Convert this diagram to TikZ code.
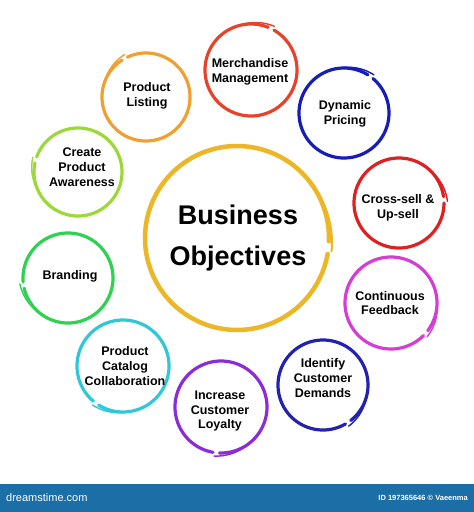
\documentclass[tikz,border=0pt]{standalone}
\usepackage{fontspec}
\setmainfont{Liberation Sans}
\definecolor{cGold}{RGB}{236,182,38}
\definecolor{cMerch}{RGB}{232,66,42}
\definecolor{cList}{RGB}{240,160,48}
\definecolor{cDyn}{RGB}{22,30,182}
\definecolor{cCross}{RGB}{224,32,32}
\definecolor{cCont}{RGB}{214,60,214}
\definecolor{cIdent}{RGB}{34,34,176}
\definecolor{cLoyal}{RGB}{140,44,216}
\definecolor{cCat}{RGB}{48,200,216}
\definecolor{cBrand}{RGB}{44,210,80}
\definecolor{cAware}{RGB}{156,216,56}
\definecolor{barblue}{RGB}{28,110,166}
\tikzset{
  lbl/.style={font=\bfseries\fontsize{12.5}{14.8}\selectfont, align=center, text=black, inner sep=0pt},
  bigl/.style={font=\bfseries\fontsize{27}{41}\selectfont, align=center, text=black, inner sep=0pt}
}
% cx cy r tailangle color width
\newcommand\brushring[6]{%
  \draw[#5, line width=#6, line cap=round] plot[domain=0:352, samples=150, smooth, variable=\t]
    ({#1+#3*cos(\t+#4)}, {#2+#3*sin(\t+#4)});
  \draw[#5, line width=0.45*#6, line cap=round] plot[domain=0:40, samples=30, smooth, variable=\t]
    ({#1+(#3+0.3+0.08*\t)*cos(\t+#4-42)}, {#2+(#3+0.3+0.08*\t)*sin(\t+#4-42)});}
\begin{document}
\begin{tikzpicture}[x=1pt,y=-1pt]
\useasboundingbox (0,0) rectangle (474,512);
\fill[white] (0,0) rectangle (474,512);

% central
\brushring{237}{238}{92}{10}{cGold}{4.5}
\node[bigl] (center) at (238,238) {Business\\Objectives};

% satellites
\brushring{251}{70}{46}{300}{cMerch}{3.2}
\node[lbl] (merch) at (250,72) {Merchandise\\Management};

\brushring{146}{97}{44}{245}{cList}{3.2}
\node[lbl] (list) at (147,96) {Product\\Listing};

\brushring{344}{113}{45}{310}{cDyn}{3.2}
\node[lbl] (dyn) at (345,114) {Dynamic\\Pricing};

\brushring{399}{203}{45}{0}{cCross}{3.2}
\node[lbl] (cross) at (398,208) {Cross-sell \&\\Up-sell};

\brushring{391}{303}{46}{45}{cCont}{3.2}
\node[lbl] (cont) at (390,303) {Continuous\\Feedback};

\brushring{323}{385}{45}{60}{cIdent}{3.2}
\node[lbl] (ident) at (323,378) {Identify\\Customer\\Demands};

\brushring{221}{407}{46}{100}{cLoyal}{3.2}
\node[lbl] (loyal) at (220,411) {Increase\\Customer\\Loyalty};

\brushring{123}{366}{46}{130}{cCat}{3.2}
\node[lbl] (cat) at (125,366) {Product\\Catalog\\Collaboration};

\brushring{68}{278}{45}{175}{cBrand}{3.2}
\node[lbl] (brand) at (70,276) {Branding};

\brushring{78}{172}{44}{200}{cAware}{3.2}
\node[lbl] (aware) at (82,167) {Create\\Product\\Awareness};

% bottom bar
\fill[barblue] (0,484) rectangle (474,512);
\node[anchor=west, text=white, inner sep=0pt, font=\fontsize{11}{12}\selectfont] (dt) at (6,498) {dreamstime.com};
\node[anchor=east, text=white, inner sep=0pt, font=\bfseries\fontsize{7.5}{9}\selectfont] (id) at (468,498) {ID 197365646 © Vaeenma};
\end{tikzpicture}
\end{document}
